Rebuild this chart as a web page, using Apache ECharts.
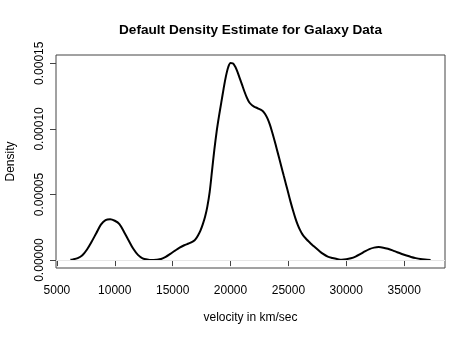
<!DOCTYPE html>
<html>
<head>
<meta charset="utf-8">
<script src="https://cdn.jsdelivr.net/npm/echarts@6/dist/echarts.min.js"></script>
<style>
html,body{margin:0;padding:0;background:#fff;}
#chart{width:474px;height:338px;}
</style>
</head>
<body>
<div id="chart"></div>
<script>
// velocity (km/sec)
var velocity = [6166, 6400, 6800, 7200, 7600, 8000, 8400, 8800, 9200, 9600, 10000, 10400, 10800, 11200, 11600, 12000, 12400, 12800, 13200, 13600, 14000, 14400, 14800, 15200, 15600, 16000, 16400, 16800, 17000, 17200, 17400, 17600, 17800, 18000, 18200, 18400, 18600, 18800, 19000, 19200, 19400, 19600, 19800, 20000, 20200, 20400, 20600, 20800, 21000, 21200, 21400, 21600, 21800, 22000, 22200, 22400, 22600, 22800, 23000, 23200, 23400, 23600, 23800, 24000, 24200, 24400, 24600, 24800, 25000, 25200, 25400, 25600, 25800, 26000, 26200, 26400, 26600, 26800, 27000, 27200, 27600, 28000, 28400, 28800, 29200, 29600, 30000, 30400, 30800, 31200, 31600, 32000, 32400, 32800, 33200, 33600, 34000, 34400, 34800, 35200, 35600, 36000, 36400, 36800, 37285];
// density values
var density = [0.0000002, 0.0000005, 0.0000015, 0.0000037, 0.0000081, 0.000014, 0.0000205, 0.000027, 0.0000305, 0.0000312, 0.00003, 0.0000275, 0.0000215, 0.000015, 0.0000086, 0.000004, 0.0000014, 0.0000004, 0.0000000, 0.0000003, 0.0000009, 0.0000025, 0.0000048, 0.0000072, 0.0000095, 0.0000113, 0.0000127, 0.0000145, 0.0000162, 0.000019, 0.0000225, 0.0000272, 0.000033, 0.000041, 0.000052, 0.000068, 0.000084, 0.000098, 0.0001095, 0.00012, 0.0001305, 0.00014, 0.000147, 0.0001502, 0.00015, 0.0001475, 0.0001435, 0.0001385, 0.0001335, 0.0001285, 0.000124, 0.0001205, 0.0001185, 0.0001172, 0.0001163, 0.0001155, 0.0001147, 0.0001135, 0.0001112, 0.0001078, 0.0001032, 0.0000975, 0.0000912, 0.0000845, 0.0000778, 0.000071, 0.0000642, 0.0000575, 0.0000507, 0.000044, 0.0000378, 0.000032, 0.000027, 0.000023, 0.0000198, 0.0000175, 0.0000155, 0.0000138, 0.0000121, 0.0000105, 0.0000075, 0.0000047, 0.0000026, 0.0000016, 0.0000008, 0.0000003, 0.0000006, 0.0000014, 0.0000027, 0.0000045, 0.0000066, 0.0000084, 0.0000095, 0.0000099, 0.0000095, 0.0000086, 0.0000074, 0.000006, 0.0000047, 0.0000035, 0.0000024, 0.0000015, 0.0000008, 0.0000004, 0.0000001];
var xTicks = [5000, 10000, 15000, 20000, 25000, 30000, 35000];
var yTicks = [0, 0.00005, 0.0001, 0.00015];
var yTickLabels = ['0.00000', '0.00005', '0.00010', '0.00015'];

var pts = velocity.map(function (v, i) { return [v, density[i]]; });
var xMin = 6166, xMax = 37285, yMax = 0.0001503;
var xPad = (xMax - xMin) * 0.04;
var font = 'Liberation Sans, Arial, Helvetica, sans-serif';

var chart = echarts.init(document.getElementById('chart'), null, {renderer: 'canvas'});
chart.setOption({
  animation: false,
  backgroundColor: '#fff',
  graphic: [{
    type: 'text', x: 250.5, y: 30, silent: true,
    style: {
      text: 'Default Density Estimate for Galaxy Data',
      align: 'center', verticalAlign: 'middle',
      font: 'bold 13.6px Liberation Sans, Arial, Helvetica, sans-serif', fill: '#000'
    }
  }],
  grid: {left: 56, right: 29, top: 55, bottom: 70, containLabel: false, outerBoundsMode: 'none',
    show: true, borderColor: '#444', borderWidth: 1, backgroundColor: 'transparent'},
  xAxis: {
    type: 'value', min: xMin - xPad, max: xMax + xPad,
    name: 'velocity in km/sec', nameLocation: 'middle', nameGap: 44,
    nameTextStyle: {fontFamily: font, fontSize: 12, color: '#000'},
    axisLine: {show: false},
    splitLine: {show: false},
    axisTick: {show: true, length: 6, customValues: xTicks, lineStyle: {color: '#444'}},
    axisLabel: {customValues: xTicks, fontFamily: font, fontSize: 12, color: '#000', margin: 17,
      formatter: function (v) { return String(Math.round(v)); }}
  },
  yAxis: {
    type: 'value', min: -0.04 * yMax, max: 1.04 * yMax,
    name: 'Density', nameLocation: 'middle', nameGap: 39, nameRotate: 90,
    nameTextStyle: {fontFamily: font, fontSize: 12, color: '#000'},
    axisLine: {show: false},
    splitLine: {show: false},
    axisTick: {show: true, length: 6, customValues: yTicks, lineStyle: {color: '#444'}},
    axisLabel: {customValues: yTicks, rotate: 90, fontFamily: font, fontSize: 12, color: '#000', margin: 10,
      formatter: function (v) {
        for (var i = 0; i < yTicks.length; i++) { if (Math.abs(yTicks[i] - v) < 1e-9) return yTickLabels[i]; }
        return '';
      }}
  },
  series: [{
    type: 'line', data: pts, showSymbol: false, smooth: 0.3,
    lineStyle: {color: '#000', width: 2},
    markLine: {
      silent: true, symbol: ['none', 'none'], label: {show: false},
      lineStyle: {color: '#e6e6e6', width: 1, type: 'solid'},
      data: [{yAxis: 0}]
    }
  }]
});
</script>
</body>
</html>
